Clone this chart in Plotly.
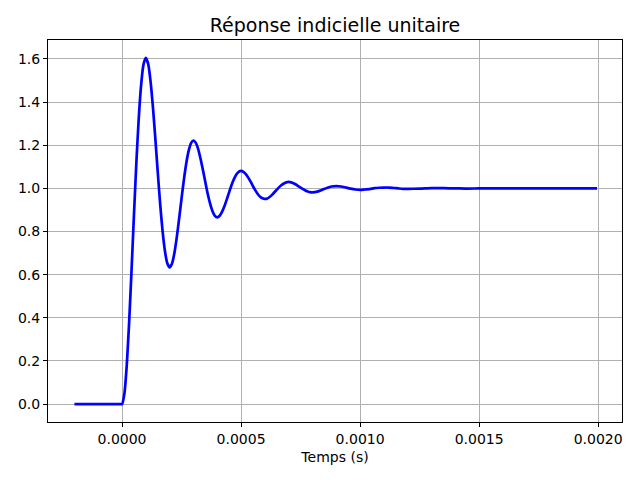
import plotly.graph_objects as go

# Time samples (s) and unit step response
t_flat = [-0.0002, -0.00015, -0.0001, -0.00005, -0.00002, -0.00001]
y_flat = [0.0, 0.0, 0.0, 0.0, 0.0, 0.0]

# 0 .. 0.0008 s, every 0.00001 s
t_osc = [i * 0.00001 for i in range(0, 81)]
y_osc = [0.000, 0.049, 0.183, 0.383, 0.623, 0.876, 1.116, 1.322, 1.478, 1.574,
         1.605, 1.576, 1.494, 1.373, 1.228, 1.075, 0.930, 0.805, 0.711, 0.653,
         0.634, 0.652, 0.701, 0.774, 0.862, 0.954, 1.042, 1.118, 1.175, 1.210,
         1.222, 1.211, 1.181, 1.136, 1.084, 1.028, 0.974, 0.929, 0.894, 0.873,
         0.866, 0.873, 0.891, 0.917, 0.949, 0.983, 1.016, 1.043, 1.064, 1.077,
         1.081, 1.077, 1.066, 1.050, 1.031, 1.010, 0.991, 0.974, 0.961, 0.954,
         0.951, 0.953, 0.960, 0.970, 0.982, 0.994, 1.006, 1.016, 1.023, 1.028,
         1.030, 1.028, 1.024, 1.018, 1.011, 1.004, 0.997, 0.990, 0.986, 0.983,
         0.982]

t_tail = [0.00082, 0.00084, 0.00086, 0.00088, 0.00090, 0.00092, 0.00094, 0.00096, 0.00098, 0.00100,
          0.00102, 0.00104, 0.00106, 0.00108, 0.00110, 0.00112, 0.00114, 0.00116, 0.00118, 0.00120,
          0.00125, 0.00130, 0.00135, 0.00140, 0.00145, 0.00150, 0.00160, 0.00170, 0.00180, 0.00190,
          0.001995]
y_tail = [0.985, 0.993, 1.002, 1.009, 1.011, 1.009, 1.004, 0.999, 0.995, 0.993,
          0.995, 0.997, 1.001, 1.003, 1.004, 1.004, 1.002, 1.000, 0.998, 0.998,
          0.999, 1.001, 1.001, 1.000, 0.999, 1.000, 1.000, 1.000, 1.000, 1.000,
          1.000]

t = t_flat + t_osc + t_tail
y = y_flat + y_osc + y_tail

x_ticks = [0.0, 0.0005, 0.0010, 0.0015, 0.0020]
y_ticks = [0.0, 0.2, 0.4, 0.6, 0.8, 1.0, 1.2, 1.4, 1.6]

fig = go.Figure()
fig.add_trace(go.Scatter(
    x=t, y=y, mode="lines",
    line=dict(color="#0000ff", width=2.7, shape="spline", smoothing=0.6),
    showlegend=False, hoverinfo="skip",
))

font = "DejaVu Sans, sans-serif"
axis_common = dict(
    showline=True, linecolor="black", linewidth=1, mirror=True,
    showgrid=True, gridcolor="#b0b0b0", gridwidth=0.8,
    ticks="outside", ticklen=4, tickwidth=1, tickcolor="black",
    zeroline=False,
    tickfont=dict(family=font, size=14, color="black"),
)

L, R, T, B = 40, 26, 32, 66
fig.update_layout(
    width=640, height=480,
    paper_bgcolor="white", plot_bgcolor="white",
    margin=dict(l=L, r=R, t=T, b=B, autoexpand=False),
    title=dict(text="Réponse indicielle unitaire", x=(L + 640 - R) / 2 / 640, xanchor="center",
               y=1 - 17 / 480, yanchor="middle",
               font=dict(family=font, size=19, color="black")),
    xaxis=dict(range=[-0.000311, 0.0021], tickvals=x_ticks, tickformat=".4f",
               title=dict(text="Temps (s)", font=dict(family=font, size=14, color="black"), standoff=6),
               **axis_common),
    yaxis=dict(range=[-0.083, 1.688], tickvals=y_ticks, tickformat=".1f", **axis_common),
)

fig.write_html("out.html")
